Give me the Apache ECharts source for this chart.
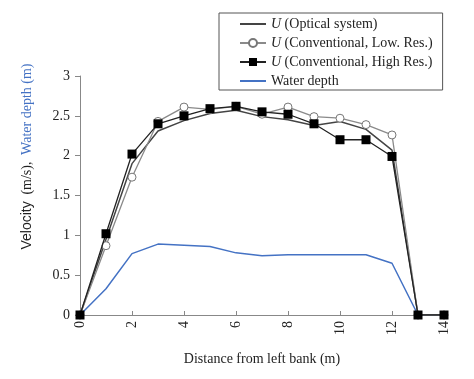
<!DOCTYPE html>
<html>
<head>
<meta charset="utf-8">
<script src="https://cdn.jsdelivr.net/npm/echarts@6/dist/echarts.min.js"></script>
<style>html,body{margin:0;padding:0;background:#fff;}#c{width:474px;height:379px;}</style>
</head>
<body>
<div id="c"></div>
<script>
const distance = [0,1,2,3,4,5,6,7,8,9,10,11,12,13,14];
const optical  = [0,0.95,1.9,2.31,2.44,2.53,2.57,2.49,2.45,2.38,2.43,2.33,2.07,0,0];
const lowRes   = [0,0.87,1.73,2.43,2.61,2.58,2.62,2.52,2.61,2.49,2.47,2.39,2.26,0,0];
const highRes  = [0,1.02,2.02,2.40,2.50,2.59,2.62,2.55,2.52,2.40,2.20,2.20,1.99,0,0];
const depth    = [0,0.33,0.77,0.89,0.875,0.86,0.78,0.745,0.757,0.757,0.757,0.757,0.65,0,0];
const names = ['U (Optical system)','U (Conventional, Low. Res.)','U (Conventional, High Res.)','Water depth'];

const pairs = a => distance.map((x,i)=>[x,a[i]]);
const serif = '"Liberation Serif","Times New Roman",serif';
const chart = echarts.init(document.getElementById('c'));
chart.setOption({
  animation:false,
  backgroundColor:'#fff',
  grid:{left:80,right:30,top:76,bottom:64},
  legend:{
    orient:'vertical', left:219, top:13, width:224,
    borderColor:'#555', borderWidth:1, padding:[4,10,2,20],
    itemGap:5, itemWidth:26, itemHeight:10,
    textStyle:{fontFamily:serif,fontSize:14,color:'#222',
      rich:{i:{fontFamily:serif,fontSize:14,fontStyle:'italic',color:'#222'},
            n:{fontFamily:serif,fontSize:14,color:'#222'}}},
    formatter: n => n.startsWith('U ') ? '{i|U} {n|'+n.slice(2)+'}' : n,
    data:[
      {name:names[0],itemStyle:{opacity:0}},
      {name:names[1]},
      {name:names[2]},
      {name:names[3],itemStyle:{opacity:0}}
    ]
  },
  xAxis:{
    type:'value', min:0, max:14, interval:2,
    name:'Distance from left bank (m)', nameLocation:'middle', nameGap:37,
    nameTextStyle:{fontFamily:serif,fontSize:14,color:'#222'},
    axisLine:{lineStyle:{color:'#888'}},
    axisTick:{inside:true,length:4,lineStyle:{color:'#888'}},
    axisLabel:{rotate:90,fontFamily:serif,fontSize:14,color:'#222',margin:6},
    splitLine:{show:false}
  },
  yAxis:{
    type:'value', min:0, max:3, interval:0.5,
    name:'{a|Velocity}  {b|(m/s),}  {c|Water depth (m)}', nameLocation:'middle', nameGap:46, nameRotate:90,
    nameTextStyle:{padding:[0,0,0,78],rich:{
      a:{fontFamily:'"Liberation Sans",Arial,sans-serif',fontSize:14,color:'#222'},
      b:{fontFamily:serif,fontSize:14,color:'#222'},
      c:{fontFamily:serif,fontSize:14,color:'#4472C4'}}},
    axisLine:{show:true,lineStyle:{color:'#888'}},
    axisTick:{show:true,length:5,lineStyle:{color:'#888'}},
    axisLabel:{fontFamily:serif,fontSize:14,color:'#222',margin:10},
    splitLine:{show:false}
  },
  series:[
    {name:names[3],type:'line',data:pairs(depth),showSymbol:false,symbol:'none',
     lineStyle:{color:'#4472C4',width:1.5},itemStyle:{color:'#4472C4'},z:1},
    {name:names[0],type:'line',data:pairs(optical),symbol:'none',
     lineStyle:{color:'#444',width:1.5},itemStyle:{color:'#444'},z:2},
    {name:names[1],type:'line',data:pairs(lowRes),symbol:'circle',symbolSize:8,
     lineStyle:{color:'#8a8a8a',width:1.3},itemStyle:{color:'#fff',borderColor:'#777',borderWidth:1},z:3},
    {name:names[2],type:'line',data:pairs(highRes),symbol:'rect',symbolSize:9,
     lineStyle:{color:'#222',width:1.3},itemStyle:{color:'#000'},z:4}
  ]
});
</script>
</body>
</html>
